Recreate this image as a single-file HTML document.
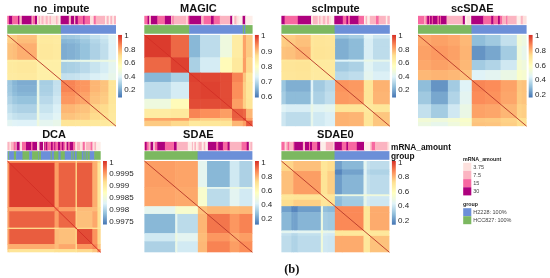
<!DOCTYPE html>
<html><head><meta charset="utf-8"><title>heatmaps</title>
<style>
html,body{margin:0;padding:0;background:#fff;}
body{width:550px;height:278px;overflow:hidden;}
svg{display:block;filter:blur(0.3px);}
.title{font-family:"Liberation Sans",Arial,sans-serif;font-weight:bold;font-size:11px;fill:#111;}
.lab{font-family:"Liberation Sans",Arial,sans-serif;fill:#262626;}
.an{font-family:"Liberation Sans",Arial,sans-serif;font-weight:bold;font-size:8.3px;fill:#111;}
.lt{font-family:"Liberation Sans",Arial,sans-serif;font-weight:bold;font-size:5.3px;fill:#222;}
.ll{font-family:"Liberation Sans",Arial,sans-serif;font-size:5.5px;fill:#444;}
.fig{font-family:"Liberation Serif","Times New Roman",serif;font-weight:bold;font-size:12.5px;fill:#111;}
</style></head>
<body><svg width="550" height="278" viewBox="0 0 550 278">
<rect width="550" height="278" fill="#fff"/>
<g><text x="61.62" y="11.7" class="title" text-anchor="middle">no_impute</text><rect x="7.25" y="15.8" width="2.4" height="8.55" fill="#f768a1"/><rect x="9.05" y="15.8" width="3.65" height="8.55" fill="#ae017e"/><rect x="12.1" y="15.8" width="6.5" height="8.55" fill="#f768a1"/><rect x="18" y="15.8" width="2" height="8.55" fill="#ae017e"/><rect x="19.4" y="15.8" width="3" height="8.55" fill="#fbb4c1"/><rect x="21.8" y="15.8" width="10.3" height="8.55" fill="#ae017e"/><rect x="31.5" y="15.8" width="1.8" height="8.55" fill="#fbb4c1"/><rect x="32.7" y="15.8" width="2.9" height="8.55" fill="#f768a1"/><rect x="35" y="15.8" width="2.6" height="8.55" fill="#ae017e"/><rect x="37" y="15.8" width="2.2" height="8.55" fill="#fde0dd"/><rect x="38.6" y="15.8" width="2" height="8.55" fill="#fbb4c1"/><rect x="40" y="15.8" width="2.1" height="8.55" fill="#fde0dd"/><rect x="41.5" y="15.8" width="2.6" height="8.55" fill="#fbb4c1"/><rect x="43.5" y="15.8" width="2.8" height="8.55" fill="#fde0dd"/><rect x="45.7" y="15.8" width="2.6" height="8.55" fill="#fbb4c1"/><rect x="47.7" y="15.8" width="2.4" height="8.55" fill="#fde0dd"/><rect x="49.5" y="15.8" width="2.1" height="8.55" fill="#fbb4c1"/><rect x="51" y="15.8" width="3.5" height="8.55" fill="#fde0dd"/><rect x="53.9" y="15.8" width="2.7" height="8.55" fill="#fde0dd"/><rect x="56" y="15.8" width="2.1" height="8.55" fill="#fbb4c1"/><rect x="57.5" y="15.8" width="2.1" height="8.55" fill="#fde0dd"/><rect x="59" y="15.8" width="2.2" height="8.55" fill="#fdeee9"/><rect x="60.6" y="15.8" width="8.8" height="8.55" fill="#ae017e"/><rect x="68.8" y="15.8" width="2.7" height="8.55" fill="#fbb4c1"/><rect x="70.9" y="15.8" width="3.7" height="8.55" fill="#ae017e"/><rect x="74" y="15.8" width="1.9" height="8.55" fill="#fbb4c1"/><rect x="75.3" y="15.8" width="3.1" height="8.55" fill="#ae017e"/><rect x="77.8" y="15.8" width="6.1" height="8.55" fill="#f768a1"/><rect x="83.3" y="15.8" width="1.7" height="8.55" fill="#ae017e"/><rect x="84.4" y="15.8" width="6.2" height="8.55" fill="#f768a1"/><rect x="90" y="15.8" width="4.3" height="8.55" fill="#fde0dd"/><rect x="93.7" y="15.8" width="2.6" height="8.55" fill="#f768a1"/><rect x="95.7" y="15.8" width="8.4" height="8.55" fill="#fbb4c1"/><rect x="103.5" y="15.8" width="2.1" height="8.55" fill="#fbb4c1"/><rect x="105" y="15.8" width="2.2" height="8.55" fill="#fdeee9"/><rect x="106.6" y="15.8" width="2.7" height="8.55" fill="#fbb4c1"/><rect x="108.7" y="15.8" width="2.2" height="8.55" fill="#fdeee9"/><rect x="110.3" y="15.8" width="2.6" height="8.55" fill="#fbb4c1"/><rect x="112.3" y="15.8" width="2.2" height="8.55" fill="#fdeee9"/><rect x="113.9" y="15.8" width="2.1" height="8.55" fill="#fbb4c1"/><rect x="7.25" y="25.1" width="54.15" height="8.65" fill="#7cb860"/><rect x="60.8" y="25.1" width="55.2" height="8.65" fill="#6c8fd8"/><rect x="7.25" y="34.95" width="5.49" height="4.71" fill="#fed186"/><rect x="12.14" y="34.95" width="5.49" height="4.71" fill="#fecd84"/><rect x="17.04" y="34.95" width="20.39" height="4.71" fill="#fdc27c"/><rect x="36.83" y="34.95" width="3.1" height="4.71" fill="#feeda3"/><rect x="39.33" y="34.95" width="14.19" height="4.71" fill="#feea9f"/><rect x="52.92" y="34.95" width="8.76" height="4.71" fill="#feeba1"/><rect x="61.08" y="34.95" width="6.58" height="4.71" fill="#9cc6df"/><rect x="67.06" y="34.95" width="8.76" height="4.71" fill="#9fc8e0"/><rect x="75.22" y="34.95" width="5.49" height="4.71" fill="#a4cbe2"/><rect x="80.11" y="34.95" width="10.39" height="4.71" fill="#b0d3e6"/><rect x="89.9" y="34.95" width="10.93" height="4.71" fill="#c1dfed"/><rect x="100.23" y="34.95" width="8.76" height="4.71" fill="#d0e9f2"/><rect x="108.39" y="34.95" width="7.61" height="4.71" fill="#e3f4f2"/><rect x="7.25" y="39.06" width="5.49" height="4.71" fill="#fecd84"/><rect x="12.14" y="39.06" width="5.49" height="4.71" fill="#fdc981"/><rect x="17.04" y="39.06" width="20.39" height="4.71" fill="#fdbd79"/><rect x="36.83" y="39.06" width="3.1" height="4.71" fill="#feeda3"/><rect x="39.33" y="39.06" width="14.19" height="4.71" fill="#feea9e"/><rect x="52.92" y="39.06" width="8.76" height="4.71" fill="#feeba1"/><rect x="61.08" y="39.06" width="6.58" height="4.71" fill="#87b6d6"/><rect x="67.06" y="39.06" width="8.76" height="4.71" fill="#8bb9d8"/><rect x="75.22" y="39.06" width="5.49" height="4.71" fill="#90bedb"/><rect x="80.11" y="39.06" width="10.39" height="4.71" fill="#9ec8e0"/><rect x="89.9" y="39.06" width="10.93" height="4.71" fill="#b3d6e8"/><rect x="100.23" y="39.06" width="8.76" height="4.71" fill="#c5e2ee"/><rect x="108.39" y="39.06" width="7.61" height="4.71" fill="#e1f3f7"/><rect x="7.25" y="43.16" width="5.49" height="17.21" fill="#fdc27c"/><rect x="12.14" y="43.16" width="5.49" height="17.21" fill="#fdbd79"/><rect x="17.04" y="43.16" width="20.39" height="17.21" fill="#fdaf70"/><rect x="36.83" y="43.16" width="3.1" height="17.21" fill="#feeca2"/><rect x="39.33" y="43.16" width="14.19" height="17.21" fill="#fee89c"/><rect x="52.92" y="43.16" width="8.76" height="17.21" fill="#feea9f"/><rect x="61.08" y="43.16" width="6.58" height="17.21" fill="#7eacd1"/><rect x="67.06" y="43.16" width="8.76" height="17.21" fill="#82b0d3"/><rect x="75.22" y="43.16" width="5.49" height="17.21" fill="#87b6d6"/><rect x="80.11" y="43.16" width="10.39" height="17.21" fill="#96c3dd"/><rect x="89.9" y="43.16" width="10.93" height="17.21" fill="#add1e5"/><rect x="100.23" y="43.16" width="8.76" height="17.21" fill="#c0deec"/><rect x="108.39" y="43.16" width="7.61" height="17.21" fill="#dff2f8"/><rect x="7.25" y="59.77" width="5.49" height="2.7" fill="#feeda3"/><rect x="12.14" y="59.77" width="5.49" height="2.7" fill="#feeda3"/><rect x="17.04" y="59.77" width="20.39" height="2.7" fill="#feeca2"/><rect x="36.83" y="59.77" width="3.1" height="2.7" fill="#fff0a9"/><rect x="39.33" y="59.77" width="14.19" height="2.7" fill="#fff0a8"/><rect x="52.92" y="59.77" width="8.76" height="2.7" fill="#fff0a8"/><rect x="61.08" y="59.77" width="6.58" height="2.7" fill="#e8f6e9"/><rect x="67.06" y="59.77" width="8.76" height="2.7" fill="#e8f6e9"/><rect x="75.22" y="59.77" width="5.49" height="2.7" fill="#e8f6e8"/><rect x="80.11" y="59.77" width="10.39" height="2.7" fill="#e9f7e7"/><rect x="89.9" y="59.77" width="10.93" height="2.7" fill="#ebf7e4"/><rect x="100.23" y="59.77" width="8.76" height="2.7" fill="#ecf8e2"/><rect x="108.39" y="59.77" width="7.61" height="2.7" fill="#eef8df"/><rect x="7.25" y="61.87" width="5.49" height="12.01" fill="#feea9f"/><rect x="12.14" y="61.87" width="5.49" height="12.01" fill="#feea9e"/><rect x="17.04" y="61.87" width="20.39" height="12.01" fill="#fee89c"/><rect x="36.83" y="61.87" width="3.1" height="12.01" fill="#fff0a8"/><rect x="39.33" y="61.87" width="14.19" height="12.01" fill="#feefa7"/><rect x="52.92" y="61.87" width="8.76" height="12.01" fill="#feefa7"/><rect x="61.08" y="61.87" width="6.58" height="12.01" fill="#a7cee3"/><rect x="67.06" y="61.87" width="8.76" height="12.01" fill="#aad0e4"/><rect x="75.22" y="61.87" width="5.49" height="12.01" fill="#aed2e6"/><rect x="80.11" y="61.87" width="10.39" height="12.01" fill="#b9d9ea"/><rect x="89.9" y="61.87" width="10.93" height="12.01" fill="#c8e4ef"/><rect x="100.23" y="61.87" width="8.76" height="12.01" fill="#d6edf4"/><rect x="108.39" y="61.87" width="7.61" height="12.01" fill="#e5f5f0"/><rect x="7.25" y="73.28" width="5.49" height="7.44" fill="#feeba1"/><rect x="12.14" y="73.28" width="5.49" height="7.44" fill="#feeba1"/><rect x="17.04" y="73.28" width="20.39" height="7.44" fill="#feea9f"/><rect x="36.83" y="73.28" width="3.1" height="7.44" fill="#fff0a8"/><rect x="39.33" y="73.28" width="14.19" height="7.44" fill="#feefa7"/><rect x="52.92" y="73.28" width="8.76" height="7.44" fill="#fff0a8"/><rect x="61.08" y="73.28" width="6.58" height="7.44" fill="#c3e0ed"/><rect x="67.06" y="73.28" width="8.76" height="7.44" fill="#c5e1ee"/><rect x="75.22" y="73.28" width="5.49" height="7.44" fill="#c8e3ef"/><rect x="80.11" y="73.28" width="10.39" height="7.44" fill="#d0e8f2"/><rect x="89.9" y="73.28" width="10.93" height="7.44" fill="#dbf0f6"/><rect x="100.23" y="73.28" width="8.76" height="7.44" fill="#e2f4f5"/><rect x="108.39" y="73.28" width="7.61" height="7.44" fill="#e8f6e9"/><rect x="7.25" y="80.12" width="5.49" height="5.62" fill="#9cc6df"/><rect x="12.14" y="80.12" width="5.49" height="5.62" fill="#87b6d6"/><rect x="17.04" y="80.12" width="20.39" height="5.62" fill="#7eacd1"/><rect x="36.83" y="80.12" width="3.1" height="5.62" fill="#e8f6e9"/><rect x="39.33" y="80.12" width="14.19" height="5.62" fill="#a7cee3"/><rect x="52.92" y="80.12" width="8.76" height="5.62" fill="#c3e0ed"/><rect x="61.08" y="80.12" width="6.58" height="5.62" fill="#f88454"/><rect x="67.06" y="80.12" width="8.76" height="5.62" fill="#f88454"/><rect x="75.22" y="80.12" width="5.49" height="5.62" fill="#fc915c"/><rect x="80.11" y="80.12" width="10.39" height="5.62" fill="#fc9760"/><rect x="89.9" y="80.12" width="10.93" height="5.62" fill="#fdb674"/><rect x="100.23" y="80.12" width="8.76" height="5.62" fill="#fdc37d"/><rect x="108.39" y="80.12" width="7.61" height="5.62" fill="#fee598"/><rect x="7.25" y="85.14" width="5.49" height="7.44" fill="#9fc8e0"/><rect x="12.14" y="85.14" width="5.49" height="7.44" fill="#8bb9d8"/><rect x="17.04" y="85.14" width="20.39" height="7.44" fill="#82b0d3"/><rect x="36.83" y="85.14" width="3.1" height="7.44" fill="#e8f6e9"/><rect x="39.33" y="85.14" width="14.19" height="7.44" fill="#aad0e4"/><rect x="52.92" y="85.14" width="8.76" height="7.44" fill="#c5e1ee"/><rect x="61.08" y="85.14" width="6.58" height="7.44" fill="#f88454"/><rect x="67.06" y="85.14" width="8.76" height="7.44" fill="#f88454"/><rect x="75.22" y="85.14" width="5.49" height="7.44" fill="#fc915c"/><rect x="80.11" y="85.14" width="10.39" height="7.44" fill="#fc9760"/><rect x="89.9" y="85.14" width="10.93" height="7.44" fill="#fdb674"/><rect x="100.23" y="85.14" width="8.76" height="7.44" fill="#fdc37d"/><rect x="108.39" y="85.14" width="7.61" height="7.44" fill="#fee598"/><rect x="7.25" y="91.98" width="5.49" height="4.71" fill="#a4cbe2"/><rect x="12.14" y="91.98" width="5.49" height="4.71" fill="#90bedb"/><rect x="17.04" y="91.98" width="20.39" height="4.71" fill="#87b6d6"/><rect x="36.83" y="91.98" width="3.1" height="4.71" fill="#e8f6e8"/><rect x="39.33" y="91.98" width="14.19" height="4.71" fill="#aed2e6"/><rect x="52.92" y="91.98" width="8.76" height="4.71" fill="#c8e3ef"/><rect x="61.08" y="91.98" width="6.58" height="4.71" fill="#fc915c"/><rect x="67.06" y="91.98" width="8.76" height="4.71" fill="#fc915c"/><rect x="75.22" y="91.98" width="5.49" height="4.71" fill="#fc9c63"/><rect x="80.11" y="91.98" width="10.39" height="4.71" fill="#fda267"/><rect x="89.9" y="91.98" width="10.93" height="4.71" fill="#fdbe79"/><rect x="100.23" y="91.98" width="8.76" height="4.71" fill="#fdc981"/><rect x="108.39" y="91.98" width="7.61" height="4.71" fill="#fee699"/><rect x="7.25" y="96.09" width="5.49" height="8.81" fill="#b0d3e6"/><rect x="12.14" y="96.09" width="5.49" height="8.81" fill="#9ec8e0"/><rect x="17.04" y="96.09" width="20.39" height="8.81" fill="#96c3dd"/><rect x="36.83" y="96.09" width="3.1" height="8.81" fill="#e9f7e7"/><rect x="39.33" y="96.09" width="14.19" height="8.81" fill="#b9d9ea"/><rect x="52.92" y="96.09" width="8.76" height="8.81" fill="#d0e8f2"/><rect x="61.08" y="96.09" width="6.58" height="8.81" fill="#fc9760"/><rect x="67.06" y="96.09" width="8.76" height="8.81" fill="#fc9760"/><rect x="75.22" y="96.09" width="5.49" height="8.81" fill="#fda267"/><rect x="80.11" y="96.09" width="10.39" height="8.81" fill="#fda76a"/><rect x="89.9" y="96.09" width="10.93" height="8.81" fill="#fdc27c"/><rect x="100.23" y="96.09" width="8.76" height="8.81" fill="#fecc83"/><rect x="108.39" y="96.09" width="7.61" height="8.81" fill="#fee69a"/><rect x="7.25" y="104.3" width="5.49" height="9.27" fill="#c1dfed"/><rect x="12.14" y="104.3" width="5.49" height="9.27" fill="#b3d6e8"/><rect x="17.04" y="104.3" width="20.39" height="9.27" fill="#add1e5"/><rect x="36.83" y="104.3" width="3.1" height="9.27" fill="#ebf7e4"/><rect x="39.33" y="104.3" width="14.19" height="9.27" fill="#c8e4ef"/><rect x="52.92" y="104.3" width="8.76" height="9.27" fill="#dbf0f6"/><rect x="61.08" y="104.3" width="6.58" height="9.27" fill="#fdb674"/><rect x="67.06" y="104.3" width="8.76" height="9.27" fill="#fdb674"/><rect x="75.22" y="104.3" width="5.49" height="9.27" fill="#fdbe79"/><rect x="80.11" y="104.3" width="10.39" height="9.27" fill="#fdc27c"/><rect x="89.9" y="104.3" width="10.93" height="9.27" fill="#fed488"/><rect x="100.23" y="104.3" width="8.76" height="9.27" fill="#fedc8d"/><rect x="108.39" y="104.3" width="7.61" height="9.27" fill="#fee89c"/><rect x="7.25" y="112.97" width="5.49" height="7.44" fill="#d0e9f2"/><rect x="12.14" y="112.97" width="5.49" height="7.44" fill="#c5e2ee"/><rect x="17.04" y="112.97" width="20.39" height="7.44" fill="#c0deec"/><rect x="36.83" y="112.97" width="3.1" height="7.44" fill="#ecf8e2"/><rect x="39.33" y="112.97" width="14.19" height="7.44" fill="#d6edf4"/><rect x="52.92" y="112.97" width="8.76" height="7.44" fill="#e2f4f5"/><rect x="61.08" y="112.97" width="6.58" height="7.44" fill="#fdc37d"/><rect x="67.06" y="112.97" width="8.76" height="7.44" fill="#fdc37d"/><rect x="75.22" y="112.97" width="5.49" height="7.44" fill="#fdc981"/><rect x="80.11" y="112.97" width="10.39" height="7.44" fill="#fecc83"/><rect x="89.9" y="112.97" width="10.93" height="7.44" fill="#fedc8d"/><rect x="100.23" y="112.97" width="8.76" height="7.44" fill="#fee191"/><rect x="108.39" y="112.97" width="7.61" height="7.44" fill="#fee99e"/><rect x="7.25" y="119.81" width="5.49" height="6.39" fill="#e3f4f2"/><rect x="12.14" y="119.81" width="5.49" height="6.39" fill="#e1f3f7"/><rect x="17.04" y="119.81" width="20.39" height="6.39" fill="#dff2f8"/><rect x="36.83" y="119.81" width="3.1" height="6.39" fill="#eef8df"/><rect x="39.33" y="119.81" width="14.19" height="6.39" fill="#e5f5f0"/><rect x="52.92" y="119.81" width="8.76" height="6.39" fill="#e8f6e9"/><rect x="61.08" y="119.81" width="6.58" height="6.39" fill="#fee598"/><rect x="67.06" y="119.81" width="8.76" height="6.39" fill="#fee598"/><rect x="75.22" y="119.81" width="5.49" height="6.39" fill="#fee699"/><rect x="80.11" y="119.81" width="10.39" height="6.39" fill="#fee69a"/><rect x="89.9" y="119.81" width="10.93" height="6.39" fill="#fee89c"/><rect x="100.23" y="119.81" width="8.76" height="6.39" fill="#fee99e"/><rect x="108.39" y="119.81" width="7.61" height="6.39" fill="#feeba1"/><line x1="7.25" y1="34.95" x2="116" y2="126.2" stroke="#bb3d2b" stroke-width="0.95"/><defs><linearGradient id="cb1181" x1="0" y1="1" x2="0" y2="0"><stop offset="0" stop-color="#4575b4"/><stop offset="0.17" stop-color="#91bfdb"/><stop offset="0.33" stop-color="#e0f3f8"/><stop offset="0.5" stop-color="#ffffbf"/><stop offset="0.67" stop-color="#fee090"/><stop offset="0.83" stop-color="#fc8d59"/><stop offset="1" stop-color="#d73027"/></linearGradient></defs><rect x="118.1" y="34.95" width="3.9" height="62.55" fill="url(#cb1181)"/><text x="124.3" y="38.38" class="lab" font-size="8">1</text><text x="124.3" y="51.88" class="lab" font-size="8">0.8</text><text x="124.3" y="65.38" class="lab" font-size="8">0.6</text><text x="124.3" y="78.88" class="lab" font-size="8">0.4</text><text x="124.3" y="92.38" class="lab" font-size="8">0.2</text></g><g><text x="198.45" y="11.7" class="title" text-anchor="middle">MAGIC</text><rect x="144.3" y="15.8" width="3.9" height="8.55" fill="#f768a1"/><rect x="147.6" y="15.8" width="2.1" height="8.55" fill="#ae017e"/><rect x="149.1" y="15.8" width="2.5" height="8.55" fill="#fbb4c1"/><rect x="151" y="15.8" width="6.9" height="8.55" fill="#ae017e"/><rect x="157.3" y="15.8" width="8.2" height="8.55" fill="#f768a1"/><rect x="164.9" y="15.8" width="6.7" height="8.55" fill="#ae017e"/><rect x="171" y="15.8" width="2.1" height="8.55" fill="#fbb4c1"/><rect x="172.5" y="15.8" width="1.6" height="8.55" fill="#f768a1"/><rect x="173.5" y="15.8" width="11.8" height="8.55" fill="#fbb4c1"/><rect x="184.7" y="15.8" width="2.2" height="8.55" fill="#fbb4c1"/><rect x="186.3" y="15.8" width="2.1" height="8.55" fill="#fde0dd"/><rect x="187.8" y="15.8" width="2.1" height="8.55" fill="#f768a1"/><rect x="189.3" y="15.8" width="12.4" height="8.55" fill="#ae017e"/><rect x="201.1" y="15.8" width="3.2" height="8.55" fill="#fbb4c1"/><rect x="203.7" y="15.8" width="7.9" height="8.55" fill="#f768a1"/><rect x="211" y="15.8" width="3.2" height="8.55" fill="#ae017e"/><rect x="213.6" y="15.8" width="6.8" height="8.55" fill="#f768a1"/><rect x="219.8" y="15.8" width="11" height="8.55" fill="#fbb4c1"/><rect x="230.2" y="15.8" width="2.6" height="8.55" fill="#ae017e"/><rect x="232.2" y="15.8" width="2.7" height="8.55" fill="#fdeee9"/><rect x="234.3" y="15.8" width="2.7" height="8.55" fill="#fbb4c1"/><rect x="236.4" y="15.8" width="2.7" height="8.55" fill="#fde0dd"/><rect x="238.5" y="15.8" width="4.7" height="8.55" fill="#fdeee9"/><rect x="242.6" y="15.8" width="3.2" height="8.55" fill="#ae017e"/><rect x="245.2" y="15.8" width="7.4" height="8.55" fill="#fdeee9"/><rect x="144.3" y="25.1" width="45.5" height="8.65" fill="#7cb860"/><rect x="189.2" y="25.1" width="54.2" height="8.65" fill="#6c8fd8"/><rect x="242.8" y="25.1" width="1.8" height="8.65" fill="#7cb860"/><rect x="244" y="25.1" width="1.9" height="8.65" fill="#6c8fd8"/><rect x="245.3" y="25.1" width="7.3" height="8.65" fill="#7cb860"/><rect x="144.3" y="34.95" width="27.13" height="22.96" fill="#db3b2d"/><rect x="170.83" y="34.95" width="18.79" height="22.96" fill="#ed6845"/><rect x="189.03" y="34.95" width="11.65" height="22.96" fill="#89b8d7"/><rect x="200.07" y="34.95" width="20.64" height="22.96" fill="#bddceb"/><rect x="220.11" y="34.95" width="12.51" height="22.96" fill="#eef9de"/><rect x="232.02" y="34.95" width="11.43" height="22.96" fill="#feeca3"/><rect x="242.85" y="34.95" width="3.85" height="22.96" fill="#fda367"/><rect x="246.1" y="34.95" width="6.5" height="22.96" fill="#fdca82"/><rect x="144.3" y="57.31" width="27.13" height="15.93" fill="#ed6845"/><rect x="170.83" y="57.31" width="18.79" height="15.93" fill="#de4130"/><rect x="189.03" y="57.31" width="11.65" height="15.93" fill="#aad0e4"/><rect x="200.07" y="57.31" width="20.64" height="15.93" fill="#d5ecf4"/><rect x="220.11" y="57.31" width="12.51" height="15.93" fill="#fffbb9"/><rect x="232.02" y="57.31" width="11.43" height="15.93" fill="#fee99d"/><rect x="242.85" y="57.31" width="3.85" height="15.93" fill="#fc9e64"/><rect x="246.1" y="57.31" width="6.5" height="15.93" fill="#fed98c"/><rect x="144.3" y="72.64" width="27.13" height="9.91" fill="#89b8d7"/><rect x="170.83" y="72.64" width="18.79" height="9.91" fill="#aad0e4"/><rect x="189.03" y="72.64" width="11.65" height="9.91" fill="#de4130"/><rect x="200.07" y="72.64" width="20.64" height="9.91" fill="#e04633"/><rect x="220.11" y="72.64" width="12.51" height="9.91" fill="#e24c36"/><rect x="232.02" y="72.64" width="11.43" height="9.91" fill="#f88454"/><rect x="242.85" y="72.64" width="3.85" height="9.91" fill="#fdc57e"/><rect x="246.1" y="72.64" width="6.5" height="9.91" fill="#fee99d"/><rect x="144.3" y="81.94" width="27.13" height="17.48" fill="#bddceb"/><rect x="170.83" y="81.94" width="18.79" height="17.48" fill="#d5ecf4"/><rect x="189.03" y="81.94" width="11.65" height="17.48" fill="#e04633"/><rect x="200.07" y="81.94" width="20.64" height="17.48" fill="#de4130"/><rect x="220.11" y="81.94" width="12.51" height="17.48" fill="#e24c36"/><rect x="232.02" y="81.94" width="11.43" height="17.48" fill="#fc8f5a"/><rect x="242.85" y="81.94" width="3.85" height="17.48" fill="#fecf85"/><rect x="246.1" y="81.94" width="6.5" height="17.48" fill="#fee79a"/><rect x="144.3" y="98.82" width="27.13" height="10.64" fill="#eef9de"/><rect x="170.83" y="98.82" width="18.79" height="10.64" fill="#fffbb9"/><rect x="189.03" y="98.82" width="11.65" height="10.64" fill="#e24c36"/><rect x="200.07" y="98.82" width="20.64" height="10.64" fill="#e24c36"/><rect x="220.11" y="98.82" width="12.51" height="10.64" fill="#e24c36"/><rect x="232.02" y="98.82" width="11.43" height="10.64" fill="#fc9e64"/><rect x="242.85" y="98.82" width="3.85" height="10.64" fill="#fecf85"/><rect x="246.1" y="98.82" width="6.5" height="10.64" fill="#fee598"/><rect x="144.3" y="108.86" width="27.13" height="9.72" fill="#feeca3"/><rect x="170.83" y="108.86" width="18.79" height="9.72" fill="#fee99d"/><rect x="189.03" y="108.86" width="11.65" height="9.72" fill="#f88454"/><rect x="200.07" y="108.86" width="20.64" height="9.72" fill="#fc8f5a"/><rect x="220.11" y="108.86" width="12.51" height="9.72" fill="#fc9e64"/><rect x="232.02" y="108.86" width="11.43" height="9.72" fill="#e95d3f"/><rect x="242.85" y="108.86" width="3.85" height="9.72" fill="#ed6845"/><rect x="246.1" y="108.86" width="6.5" height="9.72" fill="#fdb674"/><rect x="144.3" y="117.99" width="27.13" height="3.34" fill="#fda367"/><rect x="170.83" y="117.99" width="18.79" height="3.34" fill="#fc9e64"/><rect x="189.03" y="117.99" width="11.65" height="3.34" fill="#fdc57e"/><rect x="200.07" y="117.99" width="20.64" height="3.34" fill="#fecf85"/><rect x="220.11" y="117.99" width="12.51" height="3.34" fill="#fecf85"/><rect x="232.02" y="117.99" width="11.43" height="3.34" fill="#ed6845"/><rect x="242.85" y="117.99" width="3.85" height="3.34" fill="#e24c36"/><rect x="246.1" y="117.99" width="6.5" height="3.34" fill="#fc9e64"/><rect x="144.3" y="120.72" width="27.13" height="5.48" fill="#fdca82"/><rect x="170.83" y="120.72" width="18.79" height="5.48" fill="#fed98c"/><rect x="189.03" y="120.72" width="11.65" height="5.48" fill="#fee99d"/><rect x="200.07" y="120.72" width="20.64" height="5.48" fill="#fee79a"/><rect x="220.11" y="120.72" width="12.51" height="5.48" fill="#fee598"/><rect x="232.02" y="120.72" width="11.43" height="5.48" fill="#fdb674"/><rect x="242.85" y="120.72" width="3.85" height="5.48" fill="#fc9e64"/><rect x="246.1" y="120.72" width="6.5" height="5.48" fill="#e7573c"/><line x1="144.3" y1="34.95" x2="252.6" y2="126.2" stroke="#d32f26" stroke-width="0.95"/><defs><linearGradient id="cb2549" x1="0" y1="1" x2="0" y2="0"><stop offset="0" stop-color="#4575b4"/><stop offset="0.17" stop-color="#91bfdb"/><stop offset="0.33" stop-color="#e0f3f8"/><stop offset="0.5" stop-color="#ffffbf"/><stop offset="0.67" stop-color="#fee090"/><stop offset="0.83" stop-color="#fc8d59"/><stop offset="1" stop-color="#d73027"/></linearGradient></defs><rect x="254.9" y="34.95" width="3.9" height="62.55" fill="url(#cb2549)"/><text x="261.1" y="38.48" class="lab" font-size="8">1</text><text x="261.1" y="53.58" class="lab" font-size="8">0.9</text><text x="261.1" y="68.68" class="lab" font-size="8">0.8</text><text x="261.1" y="83.78" class="lab" font-size="8">0.7</text><text x="261.1" y="98.88" class="lab" font-size="8">0.6</text></g><g><text x="335.6" y="11.7" class="title" text-anchor="middle">scImpute</text><rect x="281.4" y="15.8" width="3.8" height="8.55" fill="#ae017e"/><rect x="284.6" y="15.8" width="13.8" height="8.55" fill="#f768a1"/><rect x="297.8" y="15.8" width="13.8" height="8.55" fill="#ae017e"/><rect x="311" y="15.8" width="2.6" height="8.55" fill="#fde0dd"/><rect x="313" y="15.8" width="3.2" height="8.55" fill="#fbb4c1"/><rect x="315.6" y="15.8" width="2.7" height="8.55" fill="#fbb4c1"/><rect x="317.7" y="15.8" width="1.9" height="8.55" fill="#fde0dd"/><rect x="319" y="15.8" width="2.1" height="8.55" fill="#fbb4c1"/><rect x="320.5" y="15.8" width="2.9" height="8.55" fill="#fde0dd"/><rect x="322.8" y="15.8" width="3.1" height="8.55" fill="#fbb4c1"/><rect x="325.3" y="15.8" width="2.3" height="8.55" fill="#fde0dd"/><rect x="327" y="15.8" width="2.6" height="8.55" fill="#fbb4c1"/><rect x="329" y="15.8" width="2.6" height="8.55" fill="#fde0dd"/><rect x="331" y="15.8" width="3.9" height="8.55" fill="#fdeee9"/><rect x="334.3" y="15.8" width="9.1" height="8.55" fill="#ae017e"/><rect x="342.8" y="15.8" width="4.2" height="8.55" fill="#f768a1"/><rect x="346.4" y="15.8" width="2.2" height="8.55" fill="#ae017e"/><rect x="348" y="15.8" width="2.6" height="8.55" fill="#f768a1"/><rect x="350" y="15.8" width="9" height="8.55" fill="#ae017e"/><rect x="358.4" y="15.8" width="6.2" height="8.55" fill="#f768a1"/><rect x="364" y="15.8" width="2.2" height="8.55" fill="#fdeee9"/><rect x="365.6" y="15.8" width="2.2" height="8.55" fill="#fbb4c1"/><rect x="367.2" y="15.8" width="3.2" height="8.55" fill="#fdeee9"/><rect x="369.8" y="15.8" width="6.8" height="8.55" fill="#fbb4c1"/><rect x="376" y="15.8" width="3.2" height="8.55" fill="#f768a1"/><rect x="378.6" y="15.8" width="7.8" height="8.55" fill="#fbb4c1"/><rect x="385.8" y="15.8" width="2.2" height="8.55" fill="#fdeee9"/><rect x="387.4" y="15.8" width="2.4" height="8.55" fill="#fbb4c1"/><rect x="281.4" y="25.1" width="53.8" height="8.65" fill="#7cb860"/><rect x="334.6" y="25.1" width="55.2" height="8.65" fill="#6c8fd8"/><rect x="281.4" y="34.95" width="4.94" height="4.25" fill="#fed085"/><rect x="285.74" y="34.95" width="10.36" height="4.25" fill="#fecd83"/><rect x="295.49" y="34.95" width="15.78" height="4.25" fill="#fdc37d"/><rect x="310.67" y="34.95" width="3.09" height="4.25" fill="#fee89c"/><rect x="313.16" y="34.95" width="12.2" height="4.25" fill="#fee598"/><rect x="324.76" y="34.95" width="10.9" height="4.25" fill="#fee79a"/><rect x="335.06" y="34.95" width="14.15" height="4.25" fill="#9bc6df"/><rect x="348.61" y="34.95" width="15.78" height="4.25" fill="#a6cde3"/><rect x="363.78" y="34.95" width="9.81" height="4.25" fill="#e1f3f6"/><rect x="373" y="34.95" width="16.8" height="4.25" fill="#cde6f1"/><rect x="281.4" y="38.6" width="4.94" height="8.81" fill="#fecd83"/><rect x="285.74" y="38.6" width="10.36" height="8.81" fill="#fdc981"/><rect x="295.49" y="38.6" width="15.78" height="8.81" fill="#fdc07b"/><rect x="310.67" y="38.6" width="3.09" height="8.81" fill="#fee79b"/><rect x="313.16" y="38.6" width="12.2" height="8.81" fill="#fee598"/><rect x="324.76" y="38.6" width="10.9" height="8.81" fill="#fee69a"/><rect x="335.06" y="38.6" width="14.15" height="8.81" fill="#80afd2"/><rect x="348.61" y="38.6" width="15.78" height="8.81" fill="#8ebcd9"/><rect x="363.78" y="38.6" width="9.81" height="8.81" fill="#d9eef5"/><rect x="373" y="38.6" width="16.8" height="8.81" fill="#bddceb"/><rect x="281.4" y="46.81" width="4.94" height="13.38" fill="#fdc37d"/><rect x="285.74" y="46.81" width="10.36" height="13.38" fill="#fdc07b"/><rect x="295.49" y="46.81" width="15.78" height="13.38" fill="#fdb473"/><rect x="310.67" y="46.81" width="3.09" height="13.38" fill="#fee79a"/><rect x="313.16" y="46.81" width="12.2" height="13.38" fill="#fee496"/><rect x="324.76" y="46.81" width="10.9" height="13.38" fill="#fee598"/><rect x="335.06" y="46.81" width="14.15" height="13.38" fill="#80afd2"/><rect x="348.61" y="46.81" width="15.78" height="13.38" fill="#8ebcd9"/><rect x="363.78" y="46.81" width="9.81" height="13.38" fill="#d9eef5"/><rect x="373" y="46.81" width="16.8" height="13.38" fill="#bddceb"/><rect x="281.4" y="59.59" width="4.94" height="2.7" fill="#fee89c"/><rect x="285.74" y="59.59" width="10.36" height="2.7" fill="#fee79b"/><rect x="295.49" y="59.59" width="15.78" height="2.7" fill="#fee79a"/><rect x="310.67" y="59.59" width="3.09" height="2.7" fill="#feeba1"/><rect x="313.16" y="59.59" width="12.2" height="2.7" fill="#feeba0"/><rect x="324.76" y="59.59" width="10.9" height="2.7" fill="#feeba1"/><rect x="335.06" y="59.59" width="14.15" height="2.7" fill="#e0f3f8"/><rect x="348.61" y="59.59" width="15.78" height="2.7" fill="#e2f4f5"/><rect x="363.78" y="59.59" width="9.81" height="2.7" fill="#eaf7e5"/><rect x="373" y="59.59" width="16.8" height="2.7" fill="#e7f6eb"/><rect x="281.4" y="61.69" width="4.94" height="10.36" fill="#fee598"/><rect x="285.74" y="61.69" width="10.36" height="10.36" fill="#fee598"/><rect x="295.49" y="61.69" width="15.78" height="10.36" fill="#fee496"/><rect x="310.67" y="61.69" width="3.09" height="10.36" fill="#feeba0"/><rect x="313.16" y="61.69" width="12.2" height="10.36" fill="#feea9f"/><rect x="324.76" y="61.69" width="10.9" height="10.36" fill="#feeaa0"/><rect x="335.06" y="61.69" width="14.15" height="10.36" fill="#a2cae1"/><rect x="348.61" y="61.69" width="15.78" height="10.36" fill="#acd1e5"/><rect x="363.78" y="61.69" width="9.81" height="10.36" fill="#e2f4f4"/><rect x="373" y="61.69" width="16.8" height="10.36" fill="#d0e9f2"/><rect x="281.4" y="71.45" width="4.94" height="9.27" fill="#fee79a"/><rect x="285.74" y="71.45" width="10.36" height="9.27" fill="#fee69a"/><rect x="295.49" y="71.45" width="15.78" height="9.27" fill="#fee598"/><rect x="310.67" y="71.45" width="3.09" height="9.27" fill="#feeba1"/><rect x="313.16" y="71.45" width="12.2" height="9.27" fill="#feeaa0"/><rect x="324.76" y="71.45" width="10.9" height="9.27" fill="#feeba0"/><rect x="335.06" y="71.45" width="14.15" height="9.27" fill="#b7d8e9"/><rect x="348.61" y="71.45" width="15.78" height="9.27" fill="#bfddec"/><rect x="363.78" y="71.45" width="9.81" height="9.27" fill="#e5f5ef"/><rect x="373" y="71.45" width="16.8" height="9.27" fill="#dcf0f6"/><rect x="281.4" y="80.12" width="4.94" height="12.01" fill="#9bc6df"/><rect x="285.74" y="80.12" width="10.36" height="12.01" fill="#80afd2"/><rect x="295.49" y="80.12" width="15.78" height="12.01" fill="#80afd2"/><rect x="310.67" y="80.12" width="3.09" height="12.01" fill="#e0f3f8"/><rect x="313.16" y="80.12" width="12.2" height="12.01" fill="#a2cae1"/><rect x="324.76" y="80.12" width="10.9" height="12.01" fill="#b7d8e9"/><rect x="335.06" y="80.12" width="14.15" height="12.01" fill="#fc945d"/><rect x="348.61" y="80.12" width="15.78" height="12.01" fill="#fc9961"/><rect x="363.78" y="80.12" width="9.81" height="12.01" fill="#fee598"/><rect x="373" y="80.12" width="16.8" height="12.01" fill="#fdb271"/><rect x="281.4" y="91.53" width="4.94" height="13.37" fill="#a6cde3"/><rect x="285.74" y="91.53" width="10.36" height="13.37" fill="#8ebcd9"/><rect x="295.49" y="91.53" width="15.78" height="13.37" fill="#8ebcd9"/><rect x="310.67" y="91.53" width="3.09" height="13.37" fill="#e2f4f5"/><rect x="313.16" y="91.53" width="12.2" height="13.37" fill="#acd1e5"/><rect x="324.76" y="91.53" width="10.9" height="13.37" fill="#bfddec"/><rect x="335.06" y="91.53" width="14.15" height="13.37" fill="#fc9961"/><rect x="348.61" y="91.53" width="15.78" height="13.37" fill="#fc9d64"/><rect x="363.78" y="91.53" width="9.81" height="13.37" fill="#fee598"/><rect x="373" y="91.53" width="16.8" height="13.37" fill="#fdb574"/><rect x="281.4" y="104.3" width="4.94" height="8.36" fill="#e1f3f6"/><rect x="285.74" y="104.3" width="10.36" height="8.36" fill="#d9eef5"/><rect x="295.49" y="104.3" width="15.78" height="8.36" fill="#d9eef5"/><rect x="310.67" y="104.3" width="3.09" height="8.36" fill="#eaf7e5"/><rect x="313.16" y="104.3" width="12.2" height="8.36" fill="#e2f4f4"/><rect x="324.76" y="104.3" width="10.9" height="8.36" fill="#e5f5ef"/><rect x="335.06" y="104.3" width="14.15" height="8.36" fill="#fee598"/><rect x="348.61" y="104.3" width="15.78" height="8.36" fill="#fee598"/><rect x="363.78" y="104.3" width="9.81" height="8.36" fill="#fee89d"/><rect x="373" y="104.3" width="16.8" height="8.36" fill="#fee699"/><rect x="281.4" y="112.06" width="4.94" height="14.14" fill="#cde6f1"/><rect x="285.74" y="112.06" width="10.36" height="14.14" fill="#bddceb"/><rect x="295.49" y="112.06" width="15.78" height="14.14" fill="#bddceb"/><rect x="310.67" y="112.06" width="3.09" height="14.14" fill="#e7f6eb"/><rect x="313.16" y="112.06" width="12.2" height="14.14" fill="#d0e9f2"/><rect x="324.76" y="112.06" width="10.9" height="14.14" fill="#dcf0f6"/><rect x="335.06" y="112.06" width="14.15" height="14.14" fill="#fdb271"/><rect x="348.61" y="112.06" width="15.78" height="14.14" fill="#fdb574"/><rect x="363.78" y="112.06" width="9.81" height="14.14" fill="#fee699"/><rect x="373" y="112.06" width="16.8" height="14.14" fill="#fdc67f"/><line x1="281.4" y1="34.95" x2="389.8" y2="126.2" stroke="#bb3d2b" stroke-width="0.95"/><defs><linearGradient id="cb3921" x1="0" y1="1" x2="0" y2="0"><stop offset="0" stop-color="#4575b4"/><stop offset="0.17" stop-color="#91bfdb"/><stop offset="0.33" stop-color="#e0f3f8"/><stop offset="0.5" stop-color="#ffffbf"/><stop offset="0.67" stop-color="#fee090"/><stop offset="0.83" stop-color="#fc8d59"/><stop offset="1" stop-color="#d73027"/></linearGradient></defs><rect x="392.1" y="34.95" width="3.9" height="62.55" fill="url(#cb3921)"/><text x="398.3" y="38.38" class="lab" font-size="8">1</text><text x="398.3" y="51.88" class="lab" font-size="8">0.8</text><text x="398.3" y="65.38" class="lab" font-size="8">0.6</text><text x="398.3" y="78.88" class="lab" font-size="8">0.4</text><text x="398.3" y="92.38" class="lab" font-size="8">0.2</text></g><g><text x="472.3" y="11.7" class="title" text-anchor="middle">scSDAE</text><rect x="418" y="15.8" width="6.7" height="8.55" fill="#f768a1"/><rect x="424.1" y="15.8" width="2.2" height="8.55" fill="#fbb4c1"/><rect x="425.7" y="15.8" width="2.1" height="8.55" fill="#f768a1"/><rect x="427.2" y="15.8" width="2.4" height="8.55" fill="#ae017e"/><rect x="429" y="15.8" width="1.6" height="8.55" fill="#f768a1"/><rect x="430" y="15.8" width="2.4" height="8.55" fill="#ae017e"/><rect x="431.8" y="15.8" width="1.6" height="8.55" fill="#f768a1"/><rect x="432.8" y="15.8" width="5.2" height="8.55" fill="#ae017e"/><rect x="437.4" y="15.8" width="2.1" height="8.55" fill="#f768a1"/><rect x="438.9" y="15.8" width="1.6" height="8.55" fill="#ae017e"/><rect x="439.9" y="15.8" width="1.6" height="8.55" fill="#f768a1"/><rect x="440.9" y="15.8" width="6.2" height="8.55" fill="#ae017e"/><rect x="446.5" y="15.8" width="16.9" height="8.55" fill="#fbb4c1"/><rect x="462.8" y="15.8" width="2.7" height="8.55" fill="#ae017e"/><rect x="464.9" y="15.8" width="2.6" height="8.55" fill="#fdeee9"/><rect x="466.9" y="15.8" width="3.7" height="8.55" fill="#fde0dd"/><rect x="470" y="15.8" width="1.8" height="8.55" fill="#fdeee9"/><rect x="471.2" y="15.8" width="12.6" height="8.55" fill="#ae017e"/><rect x="483.2" y="15.8" width="8.6" height="8.55" fill="#f768a1"/><rect x="491.2" y="15.8" width="2.7" height="8.55" fill="#ae017e"/><rect x="493.3" y="15.8" width="5.3" height="8.55" fill="#f768a1"/><rect x="498" y="15.8" width="2.4" height="8.55" fill="#ae017e"/><rect x="499.8" y="15.8" width="2.9" height="8.55" fill="#f768a1"/><rect x="502.1" y="15.8" width="4.7" height="8.55" fill="#fbb4c1"/><rect x="506.2" y="15.8" width="1.7" height="8.55" fill="#f768a1"/><rect x="507.3" y="15.8" width="9.9" height="8.55" fill="#fbb4c1"/><rect x="516.6" y="15.8" width="4.7" height="8.55" fill="#fdeee9"/><rect x="520.7" y="15.8" width="2.7" height="8.55" fill="#fbb4c1"/><rect x="522.8" y="15.8" width="3.8" height="8.55" fill="#fde0dd"/><rect x="418" y="25.1" width="54.1" height="8.65" fill="#7cb860"/><rect x="471.5" y="25.1" width="55.1" height="8.65" fill="#6c8fd8"/><rect x="418" y="34.95" width="13.63" height="11.55" fill="#fda86b"/><rect x="431.03" y="34.95" width="17.43" height="11.55" fill="#fca166"/><rect x="447.87" y="34.95" width="12.55" height="11.55" fill="#fda86b"/><rect x="459.81" y="34.95" width="12.55" height="11.55" fill="#fdb876"/><rect x="471.76" y="34.95" width="14.17" height="11.55" fill="#90beda"/><rect x="485.33" y="34.95" width="15.8" height="11.55" fill="#a0c9e0"/><rect x="500.54" y="34.95" width="16.89" height="11.55" fill="#c3e0ed"/><rect x="516.83" y="34.95" width="5.49" height="11.55" fill="#f2fad6"/><rect x="521.71" y="34.95" width="4.89" height="11.55" fill="#ecf8e1"/><rect x="418" y="45.9" width="13.63" height="14.74" fill="#fca166"/><rect x="431.03" y="45.9" width="17.43" height="14.74" fill="#fc9961"/><rect x="447.87" y="45.9" width="12.55" height="14.74" fill="#fca166"/><rect x="459.81" y="45.9" width="12.55" height="14.74" fill="#fdb473"/><rect x="471.76" y="45.9" width="14.17" height="14.74" fill="#6594c4"/><rect x="485.33" y="45.9" width="15.8" height="14.74" fill="#78a7ce"/><rect x="500.54" y="45.9" width="16.89" height="14.74" fill="#a4cce2"/><rect x="516.83" y="45.9" width="5.49" height="14.74" fill="#eff9dc"/><rect x="521.71" y="45.9" width="4.89" height="14.74" fill="#e7f6eb"/><rect x="418" y="60.04" width="13.63" height="10.64" fill="#fda86b"/><rect x="431.03" y="60.04" width="17.43" height="10.64" fill="#fca166"/><rect x="447.87" y="60.04" width="12.55" height="10.64" fill="#fda86b"/><rect x="459.81" y="60.04" width="12.55" height="10.64" fill="#fdb876"/><rect x="471.76" y="60.04" width="14.17" height="10.64" fill="#a3cbe2"/><rect x="485.33" y="60.04" width="15.8" height="10.64" fill="#b1d4e7"/><rect x="500.54" y="60.04" width="16.89" height="10.64" fill="#d0e8f2"/><rect x="516.83" y="60.04" width="5.49" height="10.64" fill="#f4fbd3"/><rect x="521.71" y="60.04" width="4.89" height="10.64" fill="#eff9dd"/><rect x="418" y="70.08" width="13.63" height="10.64" fill="#fdb876"/><rect x="431.03" y="70.08" width="17.43" height="10.64" fill="#fdb473"/><rect x="447.87" y="70.08" width="12.55" height="10.64" fill="#fdb876"/><rect x="459.81" y="70.08" width="12.55" height="10.64" fill="#fdc27c"/><rect x="471.76" y="70.08" width="14.17" height="10.64" fill="#e0f3f7"/><rect x="485.33" y="70.08" width="15.8" height="10.64" fill="#e4f4f1"/><rect x="500.54" y="70.08" width="16.89" height="10.64" fill="#eaf7e5"/><rect x="516.83" y="70.08" width="5.49" height="10.64" fill="#f9fdca"/><rect x="521.71" y="70.08" width="4.89" height="10.64" fill="#f6fbd0"/><rect x="418" y="80.12" width="13.63" height="12.01" fill="#90beda"/><rect x="431.03" y="80.12" width="17.43" height="12.01" fill="#6594c4"/><rect x="447.87" y="80.12" width="12.55" height="12.01" fill="#a3cbe2"/><rect x="459.81" y="80.12" width="12.55" height="12.01" fill="#e0f3f7"/><rect x="471.76" y="80.12" width="14.17" height="12.01" fill="#f98655"/><rect x="485.33" y="80.12" width="15.8" height="12.01" fill="#fc8c59"/><rect x="500.54" y="80.12" width="16.89" height="12.01" fill="#fda267"/><rect x="516.83" y="80.12" width="5.49" height="12.01" fill="#fdc780"/><rect x="521.71" y="80.12" width="4.89" height="12.01" fill="#fdc27c"/><rect x="418" y="91.53" width="13.63" height="13.37" fill="#a0c9e0"/><rect x="431.03" y="91.53" width="17.43" height="13.37" fill="#78a7ce"/><rect x="447.87" y="91.53" width="12.55" height="13.37" fill="#b1d4e7"/><rect x="459.81" y="91.53" width="12.55" height="13.37" fill="#e4f4f1"/><rect x="471.76" y="91.53" width="14.17" height="13.37" fill="#fc8c59"/><rect x="485.33" y="91.53" width="15.8" height="13.37" fill="#fc925c"/><rect x="500.54" y="91.53" width="16.89" height="13.37" fill="#fda66a"/><rect x="516.83" y="91.53" width="5.49" height="13.37" fill="#fdca81"/><rect x="521.71" y="91.53" width="4.89" height="13.37" fill="#fdc47e"/><rect x="418" y="104.3" width="13.63" height="14.29" fill="#c3e0ed"/><rect x="431.03" y="104.3" width="17.43" height="14.29" fill="#a4cce2"/><rect x="447.87" y="104.3" width="12.55" height="14.29" fill="#d0e8f2"/><rect x="459.81" y="104.3" width="12.55" height="14.29" fill="#eaf7e5"/><rect x="471.76" y="104.3" width="14.17" height="14.29" fill="#fda267"/><rect x="485.33" y="104.3" width="15.8" height="14.29" fill="#fda66a"/><rect x="500.54" y="104.3" width="16.89" height="14.29" fill="#fdb674"/><rect x="516.83" y="104.3" width="5.49" height="14.29" fill="#fed287"/><rect x="521.71" y="104.3" width="4.89" height="14.29" fill="#fece84"/><rect x="418" y="117.99" width="13.63" height="4.71" fill="#f2fad6"/><rect x="431.03" y="117.99" width="17.43" height="4.71" fill="#eff9dc"/><rect x="447.87" y="117.99" width="12.55" height="4.71" fill="#f4fbd3"/><rect x="459.81" y="117.99" width="12.55" height="4.71" fill="#f9fdca"/><rect x="471.76" y="117.99" width="14.17" height="4.71" fill="#fdc780"/><rect x="485.33" y="117.99" width="15.8" height="4.71" fill="#fdca81"/><rect x="500.54" y="117.99" width="16.89" height="4.71" fill="#fed287"/><rect x="516.83" y="117.99" width="5.49" height="4.71" fill="#fee091"/><rect x="521.71" y="117.99" width="4.89" height="4.71" fill="#fedf8f"/><rect x="418" y="122.09" width="13.63" height="4.11" fill="#ecf8e1"/><rect x="431.03" y="122.09" width="17.43" height="4.11" fill="#e7f6eb"/><rect x="447.87" y="122.09" width="12.55" height="4.11" fill="#eff9dd"/><rect x="459.81" y="122.09" width="12.55" height="4.11" fill="#f6fbd0"/><rect x="471.76" y="122.09" width="14.17" height="4.11" fill="#fdc27c"/><rect x="485.33" y="122.09" width="15.8" height="4.11" fill="#fdc47e"/><rect x="500.54" y="122.09" width="16.89" height="4.11" fill="#fece84"/><rect x="516.83" y="122.09" width="5.49" height="4.11" fill="#fedf8f"/><rect x="521.71" y="122.09" width="4.89" height="4.11" fill="#fedd8e"/><line x1="418" y1="34.95" x2="526.6" y2="126.2" stroke="#bb3d2b" stroke-width="0.95"/><defs><linearGradient id="cb5287" x1="0" y1="1" x2="0" y2="0"><stop offset="0" stop-color="#4575b4"/><stop offset="0.17" stop-color="#91bfdb"/><stop offset="0.33" stop-color="#e0f3f8"/><stop offset="0.5" stop-color="#ffffbf"/><stop offset="0.67" stop-color="#fee090"/><stop offset="0.83" stop-color="#fc8d59"/><stop offset="1" stop-color="#d73027"/></linearGradient></defs><rect x="528.7" y="34.95" width="3.9" height="62.55" fill="url(#cb5287)"/><text x="534.9" y="38.38" class="lab" font-size="8">1</text><text x="534.9" y="52.98" class="lab" font-size="8">0.8</text><text x="534.9" y="67.58" class="lab" font-size="8">0.6</text><text x="534.9" y="82.18" class="lab" font-size="8">0.4</text><text x="534.9" y="96.78" class="lab" font-size="8">0.2</text></g><g><text x="54.05" y="138.2" class="title" text-anchor="middle">DCA</text><rect x="7.4" y="141.85" width="2.6" height="8.55" fill="#fbb4c1"/><rect x="9.4" y="141.85" width="2.2" height="8.55" fill="#fde0dd"/><rect x="11" y="141.85" width="3.3" height="8.55" fill="#fbb4c1"/><rect x="13.7" y="141.85" width="2.7" height="8.55" fill="#f768a1"/><rect x="15.8" y="141.85" width="1.4" height="8.55" fill="#fde0dd"/><rect x="16.6" y="141.85" width="3.6" height="8.55" fill="#ae017e"/><rect x="19.6" y="141.85" width="3" height="8.55" fill="#fde0dd"/><rect x="22" y="141.85" width="4.6" height="8.55" fill="#f768a1"/><rect x="26" y="141.85" width="5.6" height="8.55" fill="#ae017e"/><rect x="31" y="141.85" width="2.1" height="8.55" fill="#f768a1"/><rect x="32.5" y="141.85" width="5.1" height="8.55" fill="#ae017e"/><rect x="37" y="141.85" width="3.1" height="8.55" fill="#fde0dd"/><rect x="39.5" y="141.85" width="4.1" height="8.55" fill="#ae017e"/><rect x="43" y="141.85" width="1.6" height="8.55" fill="#fde0dd"/><rect x="44" y="141.85" width="1.2" height="8.55" fill="#ae017e"/><rect x="44.6" y="141.85" width="1.7" height="8.55" fill="#f768a1"/><rect x="45.7" y="141.85" width="2.2" height="8.55" fill="#ae017e"/><rect x="47.3" y="141.85" width="4.3" height="8.55" fill="#f768a1"/><rect x="51" y="141.85" width="2.3" height="8.55" fill="#ae017e"/><rect x="52.7" y="141.85" width="2.2" height="8.55" fill="#f768a1"/><rect x="54.3" y="141.85" width="1.6" height="8.55" fill="#ae017e"/><rect x="55.3" y="141.85" width="3.3" height="8.55" fill="#f768a1"/><rect x="58" y="141.85" width="2.8" height="8.55" fill="#ae017e"/><rect x="60.2" y="141.85" width="2.2" height="8.55" fill="#f768a1"/><rect x="61.8" y="141.85" width="2.2" height="8.55" fill="#ae017e"/><rect x="63.4" y="141.85" width="2.2" height="8.55" fill="#f768a1"/><rect x="65" y="141.85" width="2.2" height="8.55" fill="#fbb4c1"/><rect x="66.6" y="141.85" width="2.2" height="8.55" fill="#ae017e"/><rect x="68.2" y="141.85" width="2.2" height="8.55" fill="#f768a1"/><rect x="69.8" y="141.85" width="3.8" height="8.55" fill="#ae017e"/><rect x="73" y="141.85" width="2.8" height="8.55" fill="#f768a1"/><rect x="75.2" y="141.85" width="2.4" height="8.55" fill="#fde0dd"/><rect x="77" y="141.85" width="3.6" height="8.55" fill="#fbb4c1"/><rect x="80" y="141.85" width="3.3" height="8.55" fill="#fde0dd"/><rect x="82.7" y="141.85" width="2.7" height="8.55" fill="#f768a1"/><rect x="84.8" y="141.85" width="1.8" height="8.55" fill="#fde0dd"/><rect x="86" y="141.85" width="2.6" height="8.55" fill="#fbb4c1"/><rect x="88" y="141.85" width="3.3" height="8.55" fill="#fbb4c1"/><rect x="90.7" y="141.85" width="2.3" height="8.55" fill="#f768a1"/><rect x="92.4" y="141.85" width="2.7" height="8.55" fill="#fde0dd"/><rect x="94.5" y="141.85" width="2.2" height="8.55" fill="#fbb4c1"/><rect x="96.1" y="141.85" width="4.6" height="8.55" fill="#fdeee9"/><rect x="7.4" y="151.15" width="1.4" height="8.65" fill="#6c8fd8"/><rect x="8.2" y="151.15" width="1.5" height="8.65" fill="#7cb860"/><rect x="9.1" y="151.15" width="5.4" height="8.65" fill="#6c8fd8"/><rect x="13.9" y="151.15" width="2.8" height="8.65" fill="#7cb860"/><rect x="16.1" y="151.15" width="7" height="8.65" fill="#6c8fd8"/><rect x="22.5" y="151.15" width="7.3" height="8.65" fill="#7cb860"/><rect x="29.2" y="151.15" width="3.5" height="8.65" fill="#6c8fd8"/><rect x="32.1" y="151.15" width="6.6" height="8.65" fill="#7cb860"/><rect x="38.1" y="151.15" width="1.1" height="8.65" fill="#6c8fd8"/><rect x="38.6" y="151.15" width="2.9" height="8.65" fill="#7cb860"/><rect x="40.9" y="151.15" width="10.4" height="8.65" fill="#6c8fd8"/><rect x="50.7" y="151.15" width="1.6" height="8.65" fill="#7cb860"/><rect x="51.7" y="151.15" width="2.8" height="8.65" fill="#6c8fd8"/><rect x="53.9" y="151.15" width="5.1" height="8.65" fill="#7cb860"/><rect x="58.4" y="151.15" width="2.8" height="8.65" fill="#6c8fd8"/><rect x="60.6" y="151.15" width="4.8" height="8.65" fill="#7cb860"/><rect x="64.8" y="151.15" width="7.1" height="8.65" fill="#6c8fd8"/><rect x="71.3" y="151.15" width="1.8" height="8.65" fill="#7cb860"/><rect x="72.5" y="151.15" width="1.9" height="8.65" fill="#6c8fd8"/><rect x="73.8" y="151.15" width="1.8" height="8.65" fill="#7cb860"/><rect x="75" y="151.15" width="2.3" height="8.65" fill="#6c8fd8"/><rect x="76.7" y="151.15" width="5.7" height="8.65" fill="#7cb860"/><rect x="81.8" y="151.15" width="2.2" height="8.65" fill="#6c8fd8"/><rect x="83.4" y="151.15" width="1.8" height="8.65" fill="#7cb860"/><rect x="84.6" y="151.15" width="1.6" height="8.65" fill="#6c8fd8"/><rect x="85.6" y="151.15" width="1.9" height="8.65" fill="#7cb860"/><rect x="86.9" y="151.15" width="1.2" height="8.65" fill="#6c8fd8"/><rect x="87.5" y="151.15" width="2.8" height="8.65" fill="#7cb860"/><rect x="89.7" y="151.15" width="5.1" height="8.65" fill="#6c8fd8"/><rect x="94.2" y="151.15" width="6.5" height="8.65" fill="#7cb860"/><rect x="7.4" y="161" width="2.47" height="2.43" fill="#f88454"/><rect x="9.27" y="161" width="45.85" height="2.43" fill="#fc945d"/><rect x="54.52" y="161" width="4.8" height="2.43" fill="#fc9e64"/><rect x="58.72" y="161" width="17.39" height="2.43" fill="#fc9e64"/><rect x="75.51" y="161" width="2" height="2.43" fill="#fecf85"/><rect x="76.91" y="161" width="15.99" height="2.43" fill="#fc9e64"/><rect x="92.3" y="161" width="5.73" height="2.43" fill="#fdb674"/><rect x="97.43" y="161" width="3.27" height="2.43" fill="#fed98c"/><rect x="7.4" y="162.83" width="2.47" height="44.88" fill="#fc945d"/><rect x="9.27" y="162.83" width="45.85" height="44.88" fill="#dd3e2f"/><rect x="54.52" y="162.83" width="4.8" height="44.88" fill="#fc9e64"/><rect x="58.72" y="162.83" width="17.39" height="44.88" fill="#eb6242"/><rect x="75.51" y="162.83" width="2" height="44.88" fill="#fed98c"/><rect x="76.91" y="162.83" width="15.99" height="44.88" fill="#e95d3f"/><rect x="92.3" y="162.83" width="5.73" height="44.88" fill="#fdad6e"/><rect x="97.43" y="162.83" width="3.27" height="44.88" fill="#fee598"/><rect x="7.4" y="207.11" width="2.47" height="4.71" fill="#fc9e64"/><rect x="9.27" y="207.11" width="45.85" height="4.71" fill="#fc9e64"/><rect x="54.52" y="207.11" width="4.8" height="4.71" fill="#f88454"/><rect x="58.72" y="207.11" width="17.39" height="4.71" fill="#fc9e64"/><rect x="75.51" y="207.11" width="2" height="4.71" fill="#fee192"/><rect x="76.91" y="207.11" width="15.99" height="4.71" fill="#fdbb78"/><rect x="92.3" y="207.11" width="5.73" height="4.71" fill="#fdbb78"/><rect x="97.43" y="207.11" width="3.27" height="4.71" fill="#fee192"/><rect x="7.4" y="211.22" width="2.47" height="17.03" fill="#fc9e64"/><rect x="9.27" y="211.22" width="45.85" height="17.03" fill="#eb6242"/><rect x="54.52" y="211.22" width="4.8" height="17.03" fill="#fc9e64"/><rect x="58.72" y="211.22" width="17.39" height="17.03" fill="#ed6845"/><rect x="75.51" y="211.22" width="2" height="17.03" fill="#fecf85"/><rect x="76.91" y="211.22" width="15.99" height="17.03" fill="#fdc07b"/><rect x="92.3" y="211.22" width="5.73" height="17.03" fill="#fda86b"/><rect x="97.43" y="211.22" width="3.27" height="17.03" fill="#fee192"/><rect x="7.4" y="227.65" width="2.47" height="1.97" fill="#fecf85"/><rect x="9.27" y="227.65" width="45.85" height="1.97" fill="#fed98c"/><rect x="54.52" y="227.65" width="4.8" height="1.97" fill="#fee192"/><rect x="58.72" y="227.65" width="17.39" height="1.97" fill="#fecf85"/><rect x="75.51" y="227.65" width="2" height="1.97" fill="#ed6845"/><rect x="76.91" y="227.65" width="15.99" height="1.97" fill="#fed98c"/><rect x="92.3" y="227.65" width="5.73" height="1.97" fill="#fee395"/><rect x="97.43" y="227.65" width="3.27" height="1.97" fill="#fee79a"/><rect x="7.4" y="229.02" width="2.47" height="15.66" fill="#fc9e64"/><rect x="9.27" y="229.02" width="45.85" height="15.66" fill="#e95d3f"/><rect x="54.52" y="229.02" width="4.8" height="15.66" fill="#fdbb78"/><rect x="58.72" y="229.02" width="17.39" height="15.66" fill="#fdc07b"/><rect x="75.51" y="229.02" width="2" height="15.66" fill="#fed98c"/><rect x="76.91" y="229.02" width="15.99" height="15.66" fill="#e24c36"/><rect x="92.3" y="229.02" width="5.73" height="15.66" fill="#fc945d"/><rect x="97.43" y="229.02" width="3.27" height="15.66" fill="#fed98c"/><rect x="7.4" y="244.08" width="2.47" height="5.62" fill="#fdb674"/><rect x="9.27" y="244.08" width="45.85" height="5.62" fill="#fdad6e"/><rect x="54.52" y="244.08" width="4.8" height="5.62" fill="#fdbb78"/><rect x="58.72" y="244.08" width="17.39" height="5.62" fill="#fda86b"/><rect x="75.51" y="244.08" width="2" height="5.62" fill="#fee395"/><rect x="76.91" y="244.08" width="15.99" height="5.62" fill="#fc945d"/><rect x="92.3" y="244.08" width="5.73" height="5.62" fill="#f88454"/><rect x="97.43" y="244.08" width="3.27" height="5.62" fill="#fdc57e"/><rect x="7.4" y="249.1" width="2.47" height="3.2" fill="#fed98c"/><rect x="9.27" y="249.1" width="45.85" height="3.2" fill="#fee598"/><rect x="54.52" y="249.1" width="4.8" height="3.2" fill="#fee192"/><rect x="58.72" y="249.1" width="17.39" height="3.2" fill="#fee192"/><rect x="75.51" y="249.1" width="2" height="3.2" fill="#fee79a"/><rect x="76.91" y="249.1" width="15.99" height="3.2" fill="#fed98c"/><rect x="92.3" y="249.1" width="5.73" height="3.2" fill="#fdc57e"/><rect x="97.43" y="249.1" width="3.27" height="3.2" fill="#f88454"/><line x1="7.4" y1="161" x2="100.7" y2="252.3" stroke="#d32f26" stroke-width="0.95"/><defs><linearGradient id="cb1030" x1="0" y1="1" x2="0" y2="0"><stop offset="0" stop-color="#4575b4"/><stop offset="0.17" stop-color="#91bfdb"/><stop offset="0.33" stop-color="#e0f3f8"/><stop offset="0.5" stop-color="#ffffbf"/><stop offset="0.67" stop-color="#fee090"/><stop offset="0.83" stop-color="#fc8d59"/><stop offset="1" stop-color="#d73027"/></linearGradient></defs><rect x="103" y="161" width="3.9" height="63.5" fill="url(#cb1030)"/><text x="109.2" y="164.58" class="lab" font-size="8">1</text><text x="109.2" y="176.48" class="lab" font-size="8">0.9995</text><text x="109.2" y="188.38" class="lab" font-size="8">0.999</text><text x="109.2" y="200.28" class="lab" font-size="8">0.9985</text><text x="109.2" y="212.18" class="lab" font-size="8">0.998</text><text x="109.2" y="224.08" class="lab" font-size="8">0.9975</text></g><g><text x="198.4" y="138.2" class="title" text-anchor="middle">SDAE</text><rect x="144.4" y="141.85" width="1.2" height="8.55" fill="#f768a1"/><rect x="145" y="141.85" width="2.2" height="8.55" fill="#ae017e"/><rect x="146.6" y="141.85" width="2.6" height="8.55" fill="#f768a1"/><rect x="148.6" y="141.85" width="2.6" height="8.55" fill="#fbb4c1"/><rect x="150.6" y="141.85" width="3.2" height="8.55" fill="#ae017e"/><rect x="153.2" y="141.85" width="2.1" height="8.55" fill="#fde0dd"/><rect x="154.7" y="141.85" width="3.2" height="8.55" fill="#f768a1"/><rect x="157.3" y="141.85" width="8.2" height="8.55" fill="#ae017e"/><rect x="164.9" y="141.85" width="9.7" height="8.55" fill="#f768a1"/><rect x="174" y="141.85" width="3.2" height="8.55" fill="#ae017e"/><rect x="176.6" y="141.85" width="11.8" height="8.55" fill="#fbb4c1"/><rect x="187.8" y="141.85" width="4.7" height="8.55" fill="#fdeee9"/><rect x="191.9" y="141.85" width="1.6" height="8.55" fill="#fbb4c1"/><rect x="192.9" y="141.85" width="2.1" height="8.55" fill="#fdeee9"/><rect x="194.4" y="141.85" width="2.2" height="8.55" fill="#fbb4c1"/><rect x="196" y="141.85" width="2.1" height="8.55" fill="#fdeee9"/><rect x="197.5" y="141.85" width="1.7" height="8.55" fill="#fde0dd"/><rect x="198.6" y="141.85" width="3.7" height="8.55" fill="#fbb4c1"/><rect x="201.7" y="141.85" width="2.6" height="8.55" fill="#fdeee9"/><rect x="203.7" y="141.85" width="2.2" height="8.55" fill="#fbb4c1"/><rect x="205.3" y="141.85" width="3.2" height="8.55" fill="#fdeee9"/><rect x="207.9" y="141.85" width="8.9" height="8.55" fill="#ae017e"/><rect x="216.2" y="141.85" width="2.6" height="8.55" fill="#f768a1"/><rect x="218.2" y="141.85" width="5.3" height="8.55" fill="#ae017e"/><rect x="222.9" y="141.85" width="5.3" height="8.55" fill="#f768a1"/><rect x="227.6" y="141.85" width="2.6" height="8.55" fill="#ae017e"/><rect x="229.6" y="141.85" width="12.6" height="8.55" fill="#fbb4c1"/><rect x="241.6" y="141.85" width="5.7" height="8.55" fill="#f768a1"/><rect x="246.7" y="141.85" width="2.7" height="8.55" fill="#ae017e"/><rect x="248.8" y="141.85" width="2.2" height="8.55" fill="#fde0dd"/><rect x="250.4" y="141.85" width="2" height="8.55" fill="#fbb4c1"/><rect x="144.4" y="151.15" width="53.8" height="8.65" fill="#7cb860"/><rect x="197.6" y="151.15" width="54.8" height="8.65" fill="#6c8fd8"/><rect x="144.4" y="161" width="31.38" height="26.62" fill="#fc9e64"/><rect x="175.18" y="161" width="2.76" height="26.62" fill="#fda468"/><rect x="177.34" y="161" width="21.12" height="26.62" fill="#fda468"/><rect x="197.86" y="161" width="9.78" height="26.62" fill="#e5f5ef"/><rect x="207.04" y="161" width="23.28" height="26.62" fill="#89b8d7"/><rect x="229.72" y="161" width="10.32" height="26.62" fill="#d0e9f2"/><rect x="239.44" y="161" width="12.96" height="26.62" fill="#add1e5"/><rect x="144.4" y="187.02" width="31.38" height="2.43" fill="#fda468"/><rect x="175.18" y="187.02" width="2.76" height="2.43" fill="#fda96b"/><rect x="177.34" y="187.02" width="21.12" height="2.43" fill="#fda96b"/><rect x="197.86" y="187.02" width="9.78" height="2.43" fill="#f6fbd0"/><rect x="207.04" y="187.02" width="23.28" height="2.43" fill="#e5f5ef"/><rect x="229.72" y="187.02" width="10.32" height="2.43" fill="#edf8df"/><rect x="239.44" y="187.02" width="12.96" height="2.43" fill="#e9f7e7"/><rect x="144.4" y="188.85" width="31.38" height="17.95" fill="#fda468"/><rect x="175.18" y="188.85" width="2.76" height="17.95" fill="#fda96b"/><rect x="177.34" y="188.85" width="21.12" height="17.95" fill="#fda96b"/><rect x="197.86" y="188.85" width="9.78" height="17.95" fill="#f8fccd"/><rect x="207.04" y="188.85" width="23.28" height="17.95" fill="#bbdbea"/><rect x="229.72" y="188.85" width="10.32" height="17.95" fill="#e4f4f1"/><rect x="239.44" y="188.85" width="12.96" height="17.95" fill="#d2eaf3"/><rect x="144.4" y="206.19" width="31.38" height="8.36" fill="#e5f5ef"/><rect x="175.18" y="206.19" width="2.76" height="8.36" fill="#f6fbd0"/><rect x="177.34" y="206.19" width="21.12" height="8.36" fill="#f8fccd"/><rect x="197.86" y="206.19" width="9.78" height="8.36" fill="#fdc27c"/><rect x="207.04" y="206.19" width="23.28" height="8.36" fill="#fdb674"/><rect x="229.72" y="206.19" width="10.32" height="8.36" fill="#fdbc78"/><rect x="239.44" y="206.19" width="12.96" height="8.36" fill="#fdb876"/><rect x="144.4" y="213.95" width="31.38" height="19.77" fill="#89b8d7"/><rect x="175.18" y="213.95" width="2.76" height="19.77" fill="#e5f5ef"/><rect x="177.34" y="213.95" width="21.12" height="19.77" fill="#bbdbea"/><rect x="197.86" y="213.95" width="9.78" height="19.77" fill="#fdb674"/><rect x="207.04" y="213.95" width="23.28" height="19.77" fill="#f3764c"/><rect x="229.72" y="213.95" width="10.32" height="19.77" fill="#fc9760"/><rect x="239.44" y="213.95" width="12.96" height="19.77" fill="#f88353"/><rect x="144.4" y="233.13" width="31.38" height="8.82" fill="#d0e9f2"/><rect x="175.18" y="233.13" width="2.76" height="8.82" fill="#edf8df"/><rect x="177.34" y="233.13" width="21.12" height="8.82" fill="#e4f4f1"/><rect x="197.86" y="233.13" width="9.78" height="8.82" fill="#fdbc78"/><rect x="207.04" y="233.13" width="23.28" height="8.82" fill="#fc9760"/><rect x="229.72" y="233.13" width="10.32" height="8.82" fill="#fdaa6c"/><rect x="239.44" y="233.13" width="12.96" height="8.82" fill="#fc9e64"/><rect x="144.4" y="241.34" width="31.38" height="10.96" fill="#add1e5"/><rect x="175.18" y="241.34" width="2.76" height="10.96" fill="#e9f7e7"/><rect x="177.34" y="241.34" width="21.12" height="10.96" fill="#d2eaf3"/><rect x="197.86" y="241.34" width="9.78" height="10.96" fill="#fdb876"/><rect x="207.04" y="241.34" width="23.28" height="10.96" fill="#f88353"/><rect x="229.72" y="241.34" width="10.32" height="10.96" fill="#fc9e64"/><rect x="239.44" y="241.34" width="12.96" height="10.96" fill="#fc8e59"/><line x1="144.4" y1="161" x2="252.4" y2="252.3" stroke="#bb3d2b" stroke-width="0.95"/><defs><linearGradient id="cb2550" x1="0" y1="1" x2="0" y2="0"><stop offset="0" stop-color="#4575b4"/><stop offset="0.17" stop-color="#91bfdb"/><stop offset="0.33" stop-color="#e0f3f8"/><stop offset="0.5" stop-color="#ffffbf"/><stop offset="0.67" stop-color="#fee090"/><stop offset="0.83" stop-color="#fc8d59"/><stop offset="1" stop-color="#d73027"/></linearGradient></defs><rect x="255" y="161" width="3.9" height="63.6" fill="url(#cb2550)"/><text x="261.2" y="164.78" class="lab" font-size="8">1</text><text x="261.2" y="178.88" class="lab" font-size="8">0.8</text><text x="261.2" y="192.88" class="lab" font-size="8">0.6</text><text x="261.2" y="206.88" class="lab" font-size="8">0.4</text><text x="261.2" y="220.88" class="lab" font-size="8">0.2</text></g><g><text x="335.4" y="138.2" class="title" text-anchor="middle">SDAE0</text><rect x="281.4" y="141.85" width="3.8" height="8.55" fill="#f768a1"/><rect x="284.6" y="141.85" width="1.8" height="8.55" fill="#fde0dd"/><rect x="285.8" y="141.85" width="2.4" height="8.55" fill="#fbb4c1"/><rect x="287.6" y="141.85" width="2.2" height="8.55" fill="#f768a1"/><rect x="289.2" y="141.85" width="4.6" height="8.55" fill="#fbb4c1"/><rect x="293.2" y="141.85" width="1.7" height="8.55" fill="#f768a1"/><rect x="294.3" y="141.85" width="9.2" height="8.55" fill="#ae017e"/><rect x="302.9" y="141.85" width="2.7" height="8.55" fill="#fbb4c1"/><rect x="305" y="141.85" width="4.6" height="8.55" fill="#ae017e"/><rect x="309" y="141.85" width="1.6" height="8.55" fill="#f768a1"/><rect x="310" y="141.85" width="2.6" height="8.55" fill="#ae017e"/><rect x="312" y="141.85" width="5.8" height="8.55" fill="#f768a1"/><rect x="317.2" y="141.85" width="3.6" height="8.55" fill="#ae017e"/><rect x="320.2" y="141.85" width="6.2" height="8.55" fill="#fdeee9"/><rect x="325.8" y="141.85" width="8.3" height="8.55" fill="#fbb4c1"/><rect x="333.5" y="141.85" width="1.6" height="8.55" fill="#fdeee9"/><rect x="334.5" y="141.85" width="7.9" height="8.55" fill="#ae017e"/><rect x="341.8" y="141.85" width="5.2" height="8.55" fill="#f768a1"/><rect x="346.4" y="141.85" width="2.2" height="8.55" fill="#ae017e"/><rect x="348" y="141.85" width="9.4" height="8.55" fill="#f768a1"/><rect x="356.8" y="141.85" width="7.8" height="8.55" fill="#ae017e"/><rect x="364" y="141.85" width="6.9" height="8.55" fill="#fdeee9"/><rect x="370.3" y="141.85" width="2.1" height="8.55" fill="#fbb4c1"/><rect x="371.8" y="141.85" width="3.8" height="8.55" fill="#f768a1"/><rect x="375" y="141.85" width="13" height="8.55" fill="#fbb4c1"/><rect x="387.4" y="141.85" width="2" height="8.55" fill="#fde0dd"/><rect x="281.4" y="151.15" width="53.7" height="8.65" fill="#7cb860"/><rect x="334.5" y="151.15" width="54.9" height="8.65" fill="#6c8fd8"/><rect x="281.4" y="161" width="10.64" height="9.09" fill="#fed589"/><rect x="291.44" y="161" width="2.44" height="9.09" fill="#fed589"/><rect x="293.28" y="161" width="4.92" height="9.09" fill="#fdc07b"/><rect x="297.6" y="161" width="23.82" height="9.09" fill="#fdc07b"/><rect x="320.82" y="161" width="2.76" height="9.09" fill="#fee698"/><rect x="322.98" y="161" width="4.92" height="9.09" fill="#fee698"/><rect x="327.3" y="161" width="8.16" height="9.09" fill="#fede8f"/><rect x="334.86" y="161" width="7.62" height="9.09" fill="#71a0cb"/><rect x="341.88" y="161" width="22.2" height="9.09" fill="#8ab8d7"/><rect x="363.48" y="161" width="3.84" height="9.09" fill="#e4f5f0"/><rect x="366.72" y="161" width="3.84" height="9.09" fill="#c5e1ee"/><rect x="369.96" y="161" width="19.44" height="9.09" fill="#bedceb"/><rect x="281.4" y="169.49" width="10.64" height="2.15" fill="#fed589"/><rect x="291.44" y="169.49" width="2.44" height="2.15" fill="#fed589"/><rect x="293.28" y="169.49" width="4.92" height="2.15" fill="#fdc07b"/><rect x="297.6" y="169.49" width="23.82" height="2.15" fill="#fdc07b"/><rect x="320.82" y="169.49" width="2.76" height="2.15" fill="#fee698"/><rect x="322.98" y="169.49" width="4.92" height="2.15" fill="#fee698"/><rect x="327.3" y="169.49" width="8.16" height="2.15" fill="#fede8f"/><rect x="334.86" y="169.49" width="7.62" height="2.15" fill="#5786bd"/><rect x="341.88" y="169.49" width="22.2" height="2.15" fill="#73a2cc"/><rect x="363.48" y="169.49" width="3.84" height="2.15" fill="#e1f3f6"/><rect x="366.72" y="169.49" width="3.84" height="2.15" fill="#b7d8e9"/><rect x="369.96" y="169.49" width="19.44" height="2.15" fill="#afd3e6"/><rect x="281.4" y="171.04" width="10.64" height="4.25" fill="#fdc07b"/><rect x="291.44" y="171.04" width="2.44" height="4.25" fill="#fdc07b"/><rect x="293.28" y="171.04" width="4.92" height="4.25" fill="#fc9e64"/><rect x="297.6" y="171.04" width="23.82" height="4.25" fill="#fc9e64"/><rect x="320.82" y="171.04" width="2.76" height="4.25" fill="#fee496"/><rect x="322.98" y="171.04" width="4.92" height="4.25" fill="#fee496"/><rect x="327.3" y="171.04" width="8.16" height="4.25" fill="#fecf85"/><rect x="334.86" y="171.04" width="7.62" height="4.25" fill="#5786bd"/><rect x="341.88" y="171.04" width="22.2" height="4.25" fill="#73a2cc"/><rect x="363.48" y="171.04" width="3.84" height="4.25" fill="#e1f3f6"/><rect x="366.72" y="171.04" width="3.84" height="4.25" fill="#b7d8e9"/><rect x="369.96" y="171.04" width="19.44" height="4.25" fill="#afd3e6"/><rect x="281.4" y="174.69" width="10.64" height="20.23" fill="#fdc07b"/><rect x="291.44" y="174.69" width="2.44" height="20.23" fill="#fdc07b"/><rect x="293.28" y="174.69" width="4.92" height="20.23" fill="#fc9e64"/><rect x="297.6" y="174.69" width="23.82" height="20.23" fill="#fc9e64"/><rect x="320.82" y="174.69" width="2.76" height="20.23" fill="#fee496"/><rect x="322.98" y="174.69" width="4.92" height="20.23" fill="#fee496"/><rect x="327.3" y="174.69" width="8.16" height="20.23" fill="#fecf85"/><rect x="334.86" y="174.69" width="7.62" height="20.23" fill="#6e9dc9"/><rect x="341.88" y="174.69" width="22.2" height="20.23" fill="#87b5d6"/><rect x="363.48" y="174.69" width="3.84" height="20.23" fill="#e4f4f1"/><rect x="366.72" y="174.69" width="3.84" height="20.23" fill="#c3e0ed"/><rect x="369.96" y="174.69" width="19.44" height="20.23" fill="#bcdbeb"/><rect x="281.4" y="194.32" width="10.64" height="2.43" fill="#fee698"/><rect x="291.44" y="194.32" width="2.44" height="2.43" fill="#fee698"/><rect x="293.28" y="194.32" width="4.92" height="2.43" fill="#fee496"/><rect x="297.6" y="194.32" width="23.82" height="2.43" fill="#fee496"/><rect x="320.82" y="194.32" width="2.76" height="2.43" fill="#fee89c"/><rect x="322.98" y="194.32" width="4.92" height="2.43" fill="#fee89c"/><rect x="327.3" y="194.32" width="8.16" height="2.43" fill="#fee69a"/><rect x="334.86" y="194.32" width="7.62" height="2.43" fill="#ebf7e4"/><rect x="341.88" y="194.32" width="22.2" height="2.43" fill="#ecf8e1"/><rect x="363.48" y="194.32" width="3.84" height="2.43" fill="#f3fad5"/><rect x="366.72" y="194.32" width="3.84" height="2.43" fill="#f0f9da"/><rect x="369.96" y="194.32" width="19.44" height="2.43" fill="#f0f9db"/><rect x="281.4" y="196.15" width="10.64" height="4.25" fill="#fee698"/><rect x="291.44" y="196.15" width="2.44" height="4.25" fill="#fee698"/><rect x="293.28" y="196.15" width="4.92" height="4.25" fill="#fee496"/><rect x="297.6" y="196.15" width="23.82" height="4.25" fill="#fee496"/><rect x="320.82" y="196.15" width="2.76" height="4.25" fill="#fee89c"/><rect x="322.98" y="196.15" width="4.92" height="4.25" fill="#fee89c"/><rect x="327.3" y="196.15" width="8.16" height="4.25" fill="#fee69a"/><rect x="334.86" y="196.15" width="7.62" height="4.25" fill="#92bfdb"/><rect x="341.88" y="196.15" width="22.2" height="4.25" fill="#a6cde3"/><rect x="363.48" y="196.15" width="3.84" height="4.25" fill="#e8f6ea"/><rect x="366.72" y="196.15" width="3.84" height="4.25" fill="#d6ecf4"/><rect x="369.96" y="196.15" width="19.44" height="4.25" fill="#d0e8f2"/><rect x="281.4" y="199.8" width="10.64" height="6.99" fill="#fede8f"/><rect x="291.44" y="199.8" width="2.44" height="6.99" fill="#fede8f"/><rect x="293.28" y="199.8" width="4.92" height="6.99" fill="#fecf85"/><rect x="297.6" y="199.8" width="23.82" height="6.99" fill="#fecf85"/><rect x="320.82" y="199.8" width="2.76" height="6.99" fill="#fee69a"/><rect x="322.98" y="199.8" width="4.92" height="6.99" fill="#fee69a"/><rect x="327.3" y="199.8" width="8.16" height="6.99" fill="#fee293"/><rect x="334.86" y="199.8" width="7.62" height="6.99" fill="#8cbad9"/><rect x="341.88" y="199.8" width="22.2" height="6.99" fill="#a1cae1"/><rect x="363.48" y="199.8" width="3.84" height="6.99" fill="#e7f6eb"/><rect x="366.72" y="199.8" width="3.84" height="6.99" fill="#d3eaf3"/><rect x="369.96" y="199.8" width="19.44" height="6.99" fill="#cde6f1"/><rect x="281.4" y="206.19" width="10.64" height="6.53" fill="#71a0cb"/><rect x="291.44" y="206.19" width="2.44" height="6.53" fill="#5786bd"/><rect x="293.28" y="206.19" width="4.92" height="6.53" fill="#5786bd"/><rect x="297.6" y="206.19" width="23.82" height="6.53" fill="#6e9dc9"/><rect x="320.82" y="206.19" width="2.76" height="6.53" fill="#ebf7e4"/><rect x="322.98" y="206.19" width="4.92" height="6.53" fill="#92bfdb"/><rect x="327.3" y="206.19" width="8.16" height="6.53" fill="#8cbad9"/><rect x="334.86" y="206.19" width="7.62" height="6.53" fill="#fb8957"/><rect x="341.88" y="206.19" width="22.2" height="6.53" fill="#fb8957"/><rect x="363.48" y="206.19" width="3.84" height="6.53" fill="#fee79a"/><rect x="366.72" y="206.19" width="3.84" height="6.53" fill="#fee79a"/><rect x="369.96" y="206.19" width="19.44" height="6.53" fill="#fdab6d"/><rect x="281.4" y="212.13" width="10.64" height="18.86" fill="#8ab8d7"/><rect x="291.44" y="212.13" width="2.44" height="18.86" fill="#73a2cc"/><rect x="293.28" y="212.13" width="4.92" height="18.86" fill="#73a2cc"/><rect x="297.6" y="212.13" width="23.82" height="18.86" fill="#87b5d6"/><rect x="320.82" y="212.13" width="2.76" height="18.86" fill="#ecf8e1"/><rect x="322.98" y="212.13" width="4.92" height="18.86" fill="#a6cde3"/><rect x="327.3" y="212.13" width="8.16" height="18.86" fill="#a1cae1"/><rect x="334.86" y="212.13" width="7.62" height="18.86" fill="#fb8957"/><rect x="341.88" y="212.13" width="22.2" height="18.86" fill="#fb8957"/><rect x="363.48" y="212.13" width="3.84" height="18.86" fill="#fee79a"/><rect x="366.72" y="212.13" width="3.84" height="18.86" fill="#fee79a"/><rect x="369.96" y="212.13" width="19.44" height="18.86" fill="#fdab6d"/><rect x="281.4" y="230.39" width="10.64" height="3.34" fill="#e4f5f0"/><rect x="291.44" y="230.39" width="2.44" height="3.34" fill="#e1f3f6"/><rect x="293.28" y="230.39" width="4.92" height="3.34" fill="#e1f3f6"/><rect x="297.6" y="230.39" width="23.82" height="3.34" fill="#e4f4f1"/><rect x="320.82" y="230.39" width="2.76" height="3.34" fill="#f3fad5"/><rect x="322.98" y="230.39" width="4.92" height="3.34" fill="#e8f6ea"/><rect x="327.3" y="230.39" width="8.16" height="3.34" fill="#e7f6eb"/><rect x="334.86" y="230.39" width="7.62" height="3.34" fill="#fee79a"/><rect x="341.88" y="230.39" width="22.2" height="3.34" fill="#fee79a"/><rect x="363.48" y="230.39" width="3.84" height="3.34" fill="#fee99d"/><rect x="366.72" y="230.39" width="3.84" height="3.34" fill="#fee99d"/><rect x="369.96" y="230.39" width="19.44" height="3.34" fill="#fee79b"/><rect x="281.4" y="233.13" width="10.64" height="3.34" fill="#c5e1ee"/><rect x="291.44" y="233.13" width="2.44" height="3.34" fill="#b7d8e9"/><rect x="293.28" y="233.13" width="4.92" height="3.34" fill="#b7d8e9"/><rect x="297.6" y="233.13" width="23.82" height="3.34" fill="#c3e0ed"/><rect x="320.82" y="233.13" width="2.76" height="3.34" fill="#f0f9da"/><rect x="322.98" y="233.13" width="4.92" height="3.34" fill="#d6ecf4"/><rect x="327.3" y="233.13" width="8.16" height="3.34" fill="#d3eaf3"/><rect x="334.86" y="233.13" width="7.62" height="3.34" fill="#fee79a"/><rect x="341.88" y="233.13" width="22.2" height="3.34" fill="#fee79a"/><rect x="363.48" y="233.13" width="3.84" height="3.34" fill="#fee99d"/><rect x="366.72" y="233.13" width="3.84" height="3.34" fill="#fee99d"/><rect x="369.96" y="233.13" width="19.44" height="3.34" fill="#fee79b"/><rect x="281.4" y="235.87" width="10.64" height="16.43" fill="#bedceb"/><rect x="291.44" y="235.87" width="2.44" height="16.43" fill="#afd3e6"/><rect x="293.28" y="235.87" width="4.92" height="16.43" fill="#afd3e6"/><rect x="297.6" y="235.87" width="23.82" height="16.43" fill="#bcdbeb"/><rect x="320.82" y="235.87" width="2.76" height="16.43" fill="#f0f9db"/><rect x="322.98" y="235.87" width="4.92" height="16.43" fill="#d0e8f2"/><rect x="327.3" y="235.87" width="8.16" height="16.43" fill="#cde6f1"/><rect x="334.86" y="235.87" width="7.62" height="16.43" fill="#fdab6d"/><rect x="341.88" y="235.87" width="22.2" height="16.43" fill="#fdab6d"/><rect x="363.48" y="235.87" width="3.84" height="16.43" fill="#fee79b"/><rect x="366.72" y="235.87" width="3.84" height="16.43" fill="#fee79b"/><rect x="369.96" y="235.87" width="19.44" height="16.43" fill="#fdc27c"/><line x1="281.4" y1="161" x2="389.4" y2="252.3" stroke="#bb3d2b" stroke-width="0.95"/><defs><linearGradient id="cb3919" x1="0" y1="1" x2="0" y2="0"><stop offset="0" stop-color="#4575b4"/><stop offset="0.17" stop-color="#91bfdb"/><stop offset="0.33" stop-color="#e0f3f8"/><stop offset="0.5" stop-color="#ffffbf"/><stop offset="0.67" stop-color="#fee090"/><stop offset="0.83" stop-color="#fc8d59"/><stop offset="1" stop-color="#d73027"/></linearGradient></defs><rect x="391.9" y="161" width="3.9" height="63.7" fill="url(#cb3919)"/><text x="398.1" y="164.68" class="lab" font-size="8">1</text><text x="398.1" y="179.18" class="lab" font-size="8">0.8</text><text x="398.1" y="193.68" class="lab" font-size="8">0.6</text><text x="398.1" y="208.18" class="lab" font-size="8">0.4</text><text x="398.1" y="222.68" class="lab" font-size="8">0.2</text></g><text x="391" y="150.1" class="an">mRNA_amount</text><text x="391" y="158.6" class="an">group</text><text x="463" y="160.9" class="lt">mRNA_amount</text><rect x="463.2" y="162.8" width="8.1" height="8.15" fill="#fde0dd"/><text x="473.3" y="168.9" class="ll">3.75</text><rect x="463.2" y="170.95" width="8.1" height="8.15" fill="#fbb4c1"/><text x="473.3" y="177.05" class="ll">7.5</text><rect x="463.2" y="179.1" width="8.1" height="8.15" fill="#f768a1"/><text x="473.3" y="185.2" class="ll">15</text><rect x="463.2" y="187.25" width="8.1" height="8.15" fill="#ae017e"/><text x="473.3" y="193.35" class="ll">30</text><text x="463" y="205.9" class="lt">group</text><rect x="463.2" y="208.2" width="8.1" height="8.0" fill="#6c8fd8"/><text x="473.3" y="214.2" class="ll">H2228: 100%</text><rect x="463.2" y="216.2" width="8.1" height="8.0" fill="#7cb860"/><text x="473.3" y="222.2" class="ll">HCC827: 100%</text><text x="291.8" y="272.6" class="fig" text-anchor="middle">(b)</text>
</svg></body></html>
